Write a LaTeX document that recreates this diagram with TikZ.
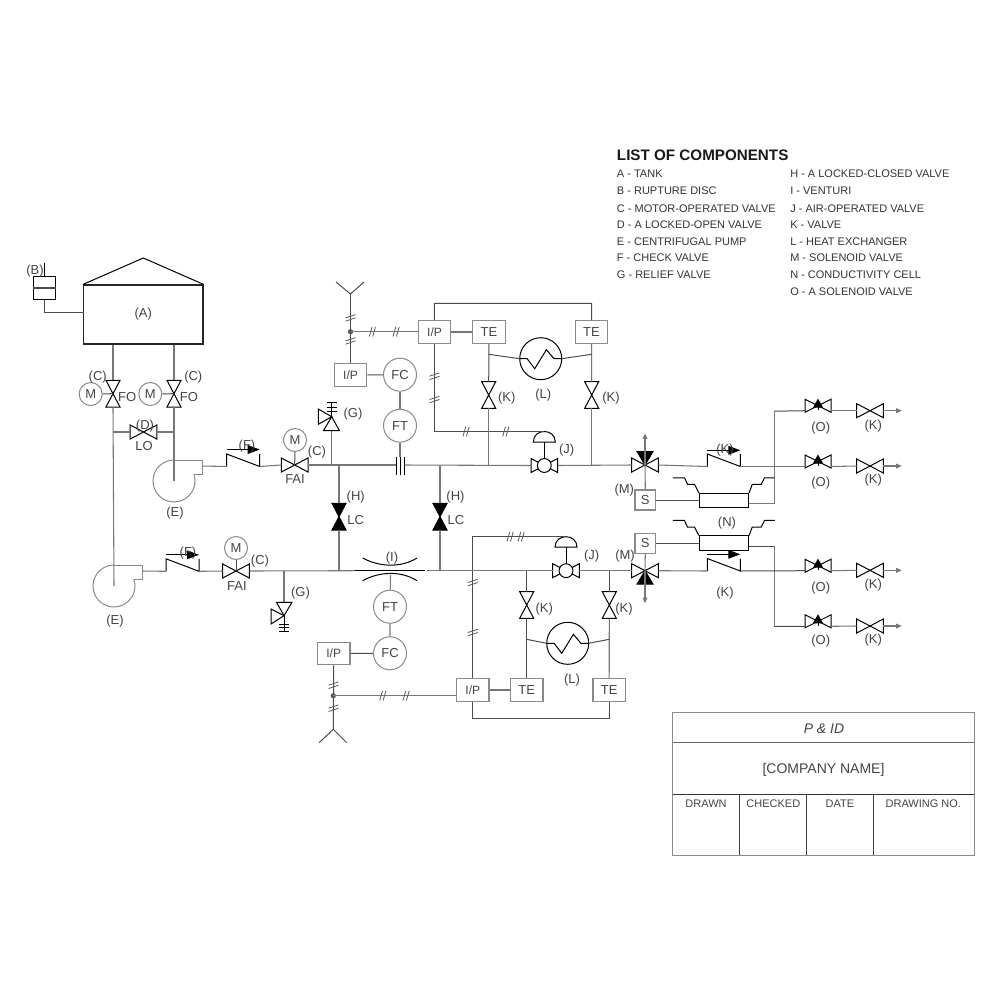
\documentclass[tikz,border=0pt]{standalone}
\usepackage{fontspec}
\setmainfont{Liberation Sans}
\usetikzlibrary{arrows.meta}
\definecolor{txt}{HTML}{444444}
\definecolor{pipecol}{HTML}{777777}
\definecolor{instcol}{HTML}{8A8A8A}
\tikzset{
  sym/.style={draw=black,line width=0.75pt,line join=miter},
  pipe/.style={draw=pipecol,line width=0.8pt},
  sig/.style={draw=black!70,line width=0.75pt},
  tick/.style={draw=black!65,line width=0.6pt},
  lbl/.style={inner sep=0pt,yshift=-0.5pt,text=txt,font=\fontsize{9.75}{11}\selectfont},
  inst/.style={circle,draw=instcol,line width=0.75pt,fill=white,inner sep=0pt,minimum size=24.75pt,text=txt,font=\fontsize{9.75}{11}\selectfont},
  motor/.style={circle,draw=instcol,line width=0.75pt,fill=white,inner sep=0pt,minimum size=17.25pt,text=txt,font=\fontsize{9.75}{11}\selectfont},
  ibox/.style={rectangle,draw=instcol,line width=1pt,fill=white,inner sep=0pt,minimum width=24.4pt,minimum height=16.9pt,text=txt,font=\fontsize{9.75}{11}\selectfont},
  ipbox/.style={ibox,font=\fontsize{9}{11}\selectfont},
  sbox/.style={rectangle,draw=instcol,line width=1pt,fill=white,inner sep=0pt,minimum width=15.3pt,minimum height=15pt,text=txt,font=\fontsize{9.75}{11}\selectfont},
  litem/.style={inner sep=0pt,anchor=base west,text=black!80,font=\fontsize{8.25}{10}\selectfont},
  thead/.style={inner sep=0pt,text=txt,font=\fontsize{8.25}{10}\selectfont},
}
% vertical bowtie: name x y [style]
\newcommand{\vbow}[4][]{%
  \coordinate (#2) at (#3,#4);
  \path (#2) ++(0,-13.3) coordinate (#2t) (#2) ++(0,13.3) coordinate (#2b);
  \draw[sym,#1] (#2) ++(-7,-13.3) -- ++(14,26.6) -- ++(-14,0) -- ++(14,-26.6) -- cycle;}
% horizontal bowtie
\newcommand{\hbow}[4][]{%
  \coordinate (#2) at (#3,#4);
  \path (#2) ++(-13.3,0) coordinate (#2l) (#2) ++(13.3,0) coordinate (#2r);
  \draw[sym,#1] (#2) ++(-13.3,-7) -- ++(26.6,14) -- ++(0,-14) -- ++(-26.6,14) -- cycle;}
% check valve: name x y arrow-rise
\newcommand{\chkv}[4]{%
  \coordinate (#1l) at (#2,#3);
  \path (#1l) ++(33,0) coordinate (#1r);
  \draw[sym] (#1l) -- ++(0,-12.5) -- ++(33,12.5) -- ++(0,-12.5);
  \draw[sym,-{Triangle[length=9pt,width=6.5pt]}] (#1l) ++(0,-#4) -- ++(33,0);}
% pump: open in the upper right quadrant, where the outlet leaves
\newcommand{\pumpc}[3]{%
  \node[circle,minimum size=31.5pt,inner sep=0pt] (#1) at (#2,#3) {};
  \path (#1) ++(28.6,-15) coordinate (#1o);
  \draw[draw=instcol,line width=0.75pt] (#1) ++(0,-21) arc[start angle=90,end angle=379.5,radius=15.75pt];
  \draw[draw=instcol,line width=0.75pt] (#1) ++(0,-21) -- ++(28.6,0) -- ++(0,14) -- ++(-8.8,0);}
% air-operated valve
\newcommand{\jvalve}[3]{%
  \hbow{#1}{#2}{#3}
  \path (#1) ++(0,-23.5) coordinate (#1a);
  \path (#1a) ++(0,-10.5) coordinate (#1c);
  \path (#1a) ++(-11,0) coordinate (#1dl) ++(22,0) coordinate (#1dr);
  \draw[sym] (#1a) -- (#1);
  \filldraw[sym,fill=white] (#1) circle[radius=5.2pt];
  \draw[sym] (#1dl) .. controls +(0,-14) and +(0,-14) .. (#1dr) -- cycle;}
% three-way solenoid valve: name x y dir(-1 up, 1 down)
\newcommand{\twv}[4]{%
  \hbow{#1}{#2}{#3}
  \draw[sym,fill=black] (#1) -- ++(-8,#4*13.5) -- ++(16,0) -- cycle;}
% O valve: name x y of the bowtie centre
\newcommand{\ovalve}[3]{%
  \coordinate (#1) at (#2,#3);
  \path (#1) ++(-13,5) coordinate (#1l) (#1) ++(13,5) coordinate (#1r);
  \draw[sym] (#1) ++(-13,-6.5) -- ++(26,13) -- ++(0,-13) -- ++(-26,13) -- cycle;
  \draw[sym,fill=black] (#1) ++(0,-6) -- ++(-4.3,7.5) -- ++(8.6,0) -- cycle;
  \draw[sym] (#1) -- ++(0,4.5);}
% conductivity cell: name cx topy
\newcommand{\cellN}[3]{%
  \node[rectangle,sym,fill=white,inner sep=0pt,minimum width=37pt,minimum height=10.9pt] (#1) at (#2,#3+7.25) {};
  \draw[sym] (#1.north west) -- ++(-4.3,-8.3) -- ++(-7,0) -- ++(-3,-6.7) -- ++(-11.7,0);
  \draw[sym] (#1.north east) -- ++(3,-8.3) -- ++(9,0) -- ++(3.3,-6.7) -- ++(10.3,0);}
% double slashes on a vertical / on a horizontal line
\newcommand{\tickv}[2]{\draw[tick] (#1,#2) ++(-5,0.2) -- ++(10,-3.3) (#1,#2) ++(-5,3.5) -- ++(10,-3.3);}
\newcommand{\tickh}[2]{\draw[tick] (#1,#2) ++(-3,4.8) -- ++(2.8,-9.6) (#1,#2) ++(0.4,4.8) -- ++(2.8,-9.6);}
% heat exchanger
\newcommand{\hxch}[3]{%
  \node[circle,sym,inner sep=0pt,minimum size=31.5pt] (#1) at (#2,#3) {};
  \path (#1) ++(-21,0) coordinate (#1l) (#1) ++(21,0) coordinate (#1r);
  \draw[sym] (#1l) -- ++(7.5,0) -- ++(7.5,10) -- ++(11.7,-19) -- ++(7.5,9) -- (#1r);}
% outlet K valve with arrow
\newcommand{\kout}[3]{%
  \hbow{#1}{#2}{#3}
  \draw[pipe,-{Triangle[length=4.2pt,width=3.5pt]}] (#1r) -- ++(18.5,0);}
\begin{document}
\begin{tikzpicture}[x=0.75pt,y=-0.75pt]
\useasboundingbox (0,0) rectangle (1000,1000);
\fill[white] (0,0) rectangle (1000,1000);

% ---- coordinates
\coordinate (roof) at (143.3,258);
\coordinate (tapB) at (84,312.5);
\coordinate (a1) at (113,344.5);
\coordinate (a2) at (174,344.5);
\coordinate (d1) at (113,432);
\coordinate (d2) at (174,432);
\coordinate (gu) at (331.7,465);
\coordinate (h1u) at (339,465);
\coordinate (h2u) at (440,465);
\coordinate (k1u) at (488.7,465);
\coordinate (k2u) at (591.7,465);
\coordinate (h1d) at (339,570.7);
\coordinate (h2d) at (440,570.7);
\coordinate (gd) at (284,570.7);
\coordinate (k3u) at (526.7,570.7);
\coordinate (k4u) at (609.3,570.7);
\coordinate (ifl) at (396,465);
\coordinate (ifr) at (404.7,465);
\coordinate (itop) at (400,456.7);
\coordinate (vl) at (355,570.7);
\coordinate (vr) at (425,570.7);
\coordinate (vs) at (427,570.7);
\coordinate (vb) at (390.5,575);

% ---- tank
\node[rectangle,draw=black!85,line width=0.85pt,inner sep=0pt,minimum width=89.6pt,minimum height=44.3pt,text=txt,font=\fontsize{9.75}{11}\selectfont] (A) at (143.3,314.5) {(A)};
\draw[sym] (A.north west) -- (roof) -- (A.north east);
\node[rectangle,sym,inner sep=0pt,minimum width=16.5pt,minimum height=16.9pt] (B) at (44.5,288) {};
\draw[draw=black!70,line width=0.9pt] (B.west) -- (B.east);
\draw[sym] (B.north) -- ++(0,-13);
\draw[sig] (B.south) |- (tapB);
\node[lbl] (lB) at (35,270.5) {(B)};

% ---- pumps
\pumpc{E1}{174}{481}
\pumpc{E2}{114}{586}
\node[lbl] (lE1) at (175,512) {(E)};
\node[lbl] (lE2) at (115,620) {(E)};

% ---- left valves
\vbow{c1}{113}{393.7}
\vbow{c2}{174}{393.7}
\hbow{dv}{143.5}{432}
\node[motor] (M1) at (90.7,394) {M};
\node[motor] (M2) at (150.3,394) {M};
\draw[sig] (M1) -- (c1);
\draw[sig] (M2) -- (c2);
\draw[pipe] (a1) -- (c1t) (a2) -- (c2t);
\draw[pipe] (c1b) -- (E2.center);
\draw[pipe] (c2b) -- (E1.center);
\draw[pipe] (d1) -- (dvl) (dvr) -- (d2);
\node[lbl] (lC1) at (97.7,376.5) {(C)};
\node[lbl] (lC2) at (193.3,376.5) {(C)};
\node[lbl] (lF1) at (127.2,396) {FO};
\node[lbl] (lF2) at (189,396) {FO};
\node[lbl] (lD) at (145,425) {(D)};
\node[lbl] (lLO) at (144,445) {LO};

% ---- upper main line
\chkv{f1}{226.7}{466.5}{17}
\hbow{fai1}{294.7}{465}
\node[motor] (M3) at (295,440) {M};
\draw[sig] (M3) -- (fai1);
\draw[pipe] (E1o) -- (f1l);
\draw[pipe] (f1r) -- (fai1l);
\draw[pipe] (fai1r) -- (ifl);
\draw[sym] (396,456.7) -- (396,475) (400,456.7) -- (400,475) (404.7,456.7) -- (404.7,475);
\node[lbl] (lF3) at (247,445) {(F)};
\node[lbl] (lC3) at (317,451) {(C)};
\node[lbl] (lFAI1) at (295,478) {FAI};
% relief valve upper
\coordinate (g1a) at (331.7,416.7);
\draw[pipe] (gu) -- (331.7,430.7);
\draw[sym] (g1a) -- (323.5,430.7) -- (339.5,430.7) -- cycle;
\draw[sym] (g1a) -- (318.3,409) -- (318.3,424.3) -- cycle;
\draw[sym] (g1a) -- (331.7,402.3) (326.7,402.3) -- (336.7,402.3) (326.7,407) -- (336.7,407) (326.7,411.7) -- (336.7,411.7);
\node[lbl] (lG1) at (353,413) {(G)};

% ---- H valves
\vbow[fill=black]{h1}{339}{516.7}
\vbow[fill=black]{h2}{440}{516.7}
\draw[pipe] (h1u) -- (h1t) (h1b) -- (h1d);
\draw[pipe] (h2u) -- (h2t) (h2b) -- (h2d);
\node[lbl] (lH1) at (355.7,496.7) {(H)};
\node[lbl] (lH2) at (455.5,496.7) {(H)};
\node[lbl] (lLC1) at (355.7,519) {LC};
\node[lbl] (lLC2) at (456,519) {LC};

% ---- lower main line
\chkv{f2}{166}{571.3}{16.5}
\hbow{fai2}{236}{571}
\node[motor] (M4) at (236,548) {M};
\draw[sig] (M4) -- (fai2);
\draw[pipe] (E2o) -- (f2l);
\draw[pipe] (f2r) -- (fai2l);
\draw[pipe] (fai2r) -- (vl);
\node[lbl] (lF4) at (188,552) {(F)};
\node[lbl] (lC4) at (260,560) {(C)};
\node[lbl] (lFAI2) at (237,585) {FAI};
% relief valve lower
\coordinate (g2a) at (284,615.7);
\draw[pipe] (gd) -- (284,602.3);
\draw[sym] (g2a) -- (276.5,602.3) -- (292,602.3) -- cycle;
\draw[sym] (g2a) -- (271,609) -- (271,624) -- cycle;
\draw[sym] (g2a) -- (284,631) (279.3,624) -- (289.3,624) (279.3,627.5) -- (289.3,627.5) (279.3,631) -- (289.3,631);
\node[lbl] (lG2) at (300.5,592.5) {(G)};

% ---- venturi
\draw[sym] (vl) -- (vr);
\draw[sym] (362.7,558) .. controls (380,567.5) and (402,567.5) .. (417,558);
\draw[sym] (362.7,580.7) .. controls (380,571) and (402,571) .. (417,580.7);
\node[lbl] (lI) at (392,557.5) {(I)};

% ---- upper flow loop instruments
\node[inst] (FTu) at (400,425.7) {FT};
\node[inst] (FCu) at (400,374.7) {FC};
\node[ipbox] (IPu1) at (350.5,375) {I/P};
\node[ipbox] (IPu2) at (434.5,332) {I/P};
\node[ibox] (TEu1) at (489,332) {TE};
\node[ibox] (TEu2) at (591.5,332) {TE};
\coordinate (fu) at (350.5,294);
\coordinate (du) at (350.5,331.7);
\draw[pipe] (itop) -- (FTu) (FTu) -- (FCu);
\draw[sig] (FCu) -- (IPu1);
\draw[sig] (fu) -- (IPu1);
\draw[sig] (fu) -- (336,282) (fu) -- (364,282);
\fill[black!65] (du) circle[radius=2pt];
\draw[pipe] (du) -- (du -| IPu2.west);
\tickv{350.5}{317.7}
\tickv{350.5}{340.7}
\tickh{372.3}{331.7}
\tickh{396}{331.7}
\draw[pipe] (IPu2) -- (TEu1);
\coordinate (topl) at (434.3,303.3);
\coordinate (topr) at (591.7,303.3);
\draw[sig] (IPu2.north) -- (topl) -- (topr) -- (TEu2.north);
\jvalve{j1}{544.3}{465.5}
\draw[sig] (IPu2.south) |- (j1c);
\tickv{434.5}{376}
\tickv{434.5}{399.3}
\tickh{466}{431.5}
\tickh{505.7}{431.5}
\node[lbl] (lJ1) at (566.7,449) {(J)};

% ---- upper exchanger branch
\vbow{k1}{488.7}{395}
\vbow{k2}{591.7}{395}
\draw[sig] (TEu1.south) -- (k1t);
\draw[pipe] (TEu2.south) -- (k2t);
\draw[pipe] (k1b) -- (k1u) (k2b) -- (k2u);
\hxch{L1}{540.7}{358.7}
\draw[sig] (488.7,354.3) -- (L1l);
\draw[sig] (591.7,354.3) -- (L1r);
\node[lbl] (lK1) at (506.7,397.7) {(K)};
\node[lbl] (lK2) at (611,397.7) {(K)};
\node[lbl] (lL1) at (543.3,394) {(L)};
\draw[pipe] (ifr) -- (j1l);

% ---- upper outlet
\twv{m1}{645}{465}{-1}
\draw[pipe] (j1r) -- (m1l);
\coordinate (m1tip) at (645,433.3);
\draw[pipe,-{Triangle[length=4.2pt,width=3.5pt]}] (m1) -- (m1tip);
\node[sbox] (S1) at (645.3,500) {S};
\draw[pipe] (m1) -- (S1.north);
\node[lbl] (lM1) at (624.3,489) {(M)};
\cellN{N1}{724}{493.3}
\draw[sig] (S1.east) -- (N1.west |- S1.east);
\chkv{k5}{707.3}{466.5}{16.2}
\draw[pipe] (m1r) -- (k5l);
\node[lbl] (lK5) at (725,449) {(K)};
\coordinate (bu) at (774.3,503.3);
\coordinate (bt) at (774.3,411.2);
\draw[pipe] (N1.east |- bu) -- (bu) -- (bt);
\ovalve{o1}{818}{405.7}
\ovalve{o2}{818}{461.5}
\draw[sig] (bt) -- (o1l);
\draw[pipe] (k5r) -- (o2l);
\kout{ko1}{870}{410.7}
\kout{ko2}{870}{466}
\draw[pipe] (o1r) -- (ko1l);
\draw[pipe] (o2r) -- (ko2l);
\node[lbl] (lO1) at (820.7,427.7) {(O)};
\node[lbl] (lO2) at (820.7,482.7) {(O)};
\node[lbl] (lK6) at (873.3,425) {(K)};
\node[lbl] (lK7) at (873.3,479.3) {(K)};

% ---- lower flow loop instruments
\node[inst] (FTd) at (390,606.7) {FT};
\node[inst] (FCd) at (390,653.3) {FC};
\node[ipbox] (IPd1) at (333.7,653.5) {I/P};
\node[ipbox] (IPd2) at (472.8,690) {I/P};
\node[ibox] (TEd1) at (526.7,690) {TE};
\node[ibox] (TEd2) at (609.2,690) {TE};
\coordinate (fd) at (333.3,729.3);
\coordinate (dd) at (333.3,695.7);
\draw[pipe] (vb) -- (FTd) (FTd) -- (FCd);
\draw[sig] (FCd) -- (IPd1);
\draw[sig] (IPd1.south) -- (fd);
\draw[sig] (fd) -- (319,742.7) (fd) -- (346.7,742.7);
\fill[black!65] (dd) circle[radius=2pt];
\draw[pipe] (dd) -- (dd -| IPd2.west);
\tickv{333.5}{685}
\tickv{333.5}{708}
\tickh{382.7}{695.7}
\tickh{406}{695.7}
\draw[pipe] (IPd2) -- (TEd1);
\coordinate (botl) at (472.8,718.3);
\coordinate (botr) at (609.2,718.3);
\draw[sig] (IPd2.south) -- (botl) -- (botr) -- (TEd2.south);
\jvalve{j2}{566}{570.7}
\draw[sig] (IPd2.north) |- (j2c);
\tickv{472.8}{582.3}
\tickv{472.8}{632.3}
\tickh{510}{536.7}
\tickh{521}{536.7}
\node[lbl] (lJ2) at (591.7,555) {(J)};
\draw[pipe] (vs) -- (j2l);

% ---- lower exchanger branch
\vbow{k3}{526.7}{605}
\vbow{k4}{609.3}{605}
\draw[sig] (k3u) -- (k3t);
\draw[sig] (k4u) -- (k4t);
\draw[sig] (k3b) -- (TEd1.north);
\draw[pipe] (k4b) -- (TEd2.north);
\hxch{L2}{567.7}{643.3}
\draw[sig] (526.7,639.3) -- (L2l);
\draw[sig] (609.3,639.3) -- (L2r);
\node[lbl] (lK3) at (544.3,608) {(K)};
\node[lbl] (lK4) at (624,608) {(K)};
\node[lbl] (lL2) at (572,679) {(L)};

% ---- lower outlet
\twv{m2}{645}{570.7}{1}
\draw[pipe] (j2r) -- (m2l);
\coordinate (m2tip) at (645,603.3);
\draw[pipe,-{Triangle[length=4.2pt,width=3.5pt]}] (m2) -- (m2tip);
\node[sbox] (S2) at (645.3,543.3) {S};
\draw[pipe] (m2) -- (S2.south);
\node[lbl] (lM2) at (625,555.7) {(M)};
\cellN{N2}{724}{536}
\draw[sig] (S2.east) -- (N2.west |- S2.east);
\chkv{k8}{707.3}{571}{16.7}
\draw[pipe] (m2r) -- (k8l);
\node[lbl] (lN) at (727,522.7) {(N)};
\node[lbl] (lK8) at (725,592.3) {(K)};
\coordinate (bv) at (774.3,546);
\coordinate (bw) at (774.3,626.5);
\draw[sig] (N2.east |- bv) -- (bv);
\draw[pipe] (bv) -- (bw);
\ovalve{o3}{818}{565.7}
\ovalve{o4}{818}{621.3}
\draw[sig] (bw) -- (o4l);
\draw[sig] (k8r) -- (o3l);
\kout{ko3}{870}{570.3}
\kout{ko4}{870}{626}
\draw[pipe] (o3r) -- (ko3l);
\draw[pipe] (o4r) -- (ko4l);
\node[lbl] (lO3) at (820.7,587.3) {(O)};
\node[lbl] (lO4) at (820.7,640.7) {(O)};
\node[lbl] (lK9) at (873.3,584.3) {(K)};
\node[lbl] (lK10) at (873.3,639.3) {(K)};

% ---- list
\node[inner sep=0pt,anchor=base west,text=black!90,font=\fontsize{11.4}{13}\selectfont\bfseries] (lt) at (616.7,160) {LIST OF COMPONENTS};
\node[litem] (l1) at (616.7,177) {A - TANK};
\node[litem] (l2) at (616.7,194) {B - RUPTURE DISC};
\node[litem] (l3) at (616.7,212) {C - MOTOR-OPERATED VALVE};
\node[litem] (l4) at (616.7,228.5) {D - A LOCKED-OPEN VALVE};
\node[litem] (l5) at (616.7,245) {E - CENTRIFUGAL PUMP};
\node[litem] (l6) at (616.7,261) {F - CHECK VALVE};
\node[litem] (l7) at (616.7,278) {G - RELIEF VALVE};
\node[litem] (r1) at (790,177) {H - A LOCKED-CLOSED VALVE};
\node[litem] (r2) at (790,194) {I - VENTURI};
\node[litem] (r3) at (790,212) {J - AIR-OPERATED VALVE};
\node[litem] (r4) at (790,228.5) {K - VALVE};
\node[litem] (r5) at (790,245) {L - HEAT EXCHANGER};
\node[litem] (r6) at (790,261) {M - SOLENOID VALVE};
\node[litem] (r7) at (790,278) {N - CONDUCTIVITY CELL};
\node[litem] (r8) at (790,295) {O - A SOLENOID VALVE};

% ---- title block
\draw[draw=instcol,line width=0.9pt] (672.7,712.7) rectangle (974.3,855.3);
\draw[draw=black!60,line width=0.9pt] (672.7,742.7) -- (974.3,742.7);
\draw[draw=black!80,line width=0.75pt] (672.7,794.3) -- (974.3,794.3);
\draw[draw=black!75,line width=0.75pt] (739.7,794.3) -- (739.7,855.3) (806.3,794.3) -- (806.3,855.3) (873,794.3) -- (873,855.3);
\node[lbl,font=\fontsize{10.5}{12}\selectfont\itshape] (tt) at (824,728) {P \& ID};
\node[lbl,font=\fontsize{10.5}{12}\selectfont] (tc) at (823.5,769) {[COMPANY NAME]};
\node[thead] (td1) at (706,804) {DRAWN};
\node[thead] (td2) at (773.3,804) {CHECKED};
\node[thead] (td3) at (840,804) {DATE};
\node[thead] (td4) at (923.3,804) {DRAWING NO.};
\end{tikzpicture}
\end{document}
